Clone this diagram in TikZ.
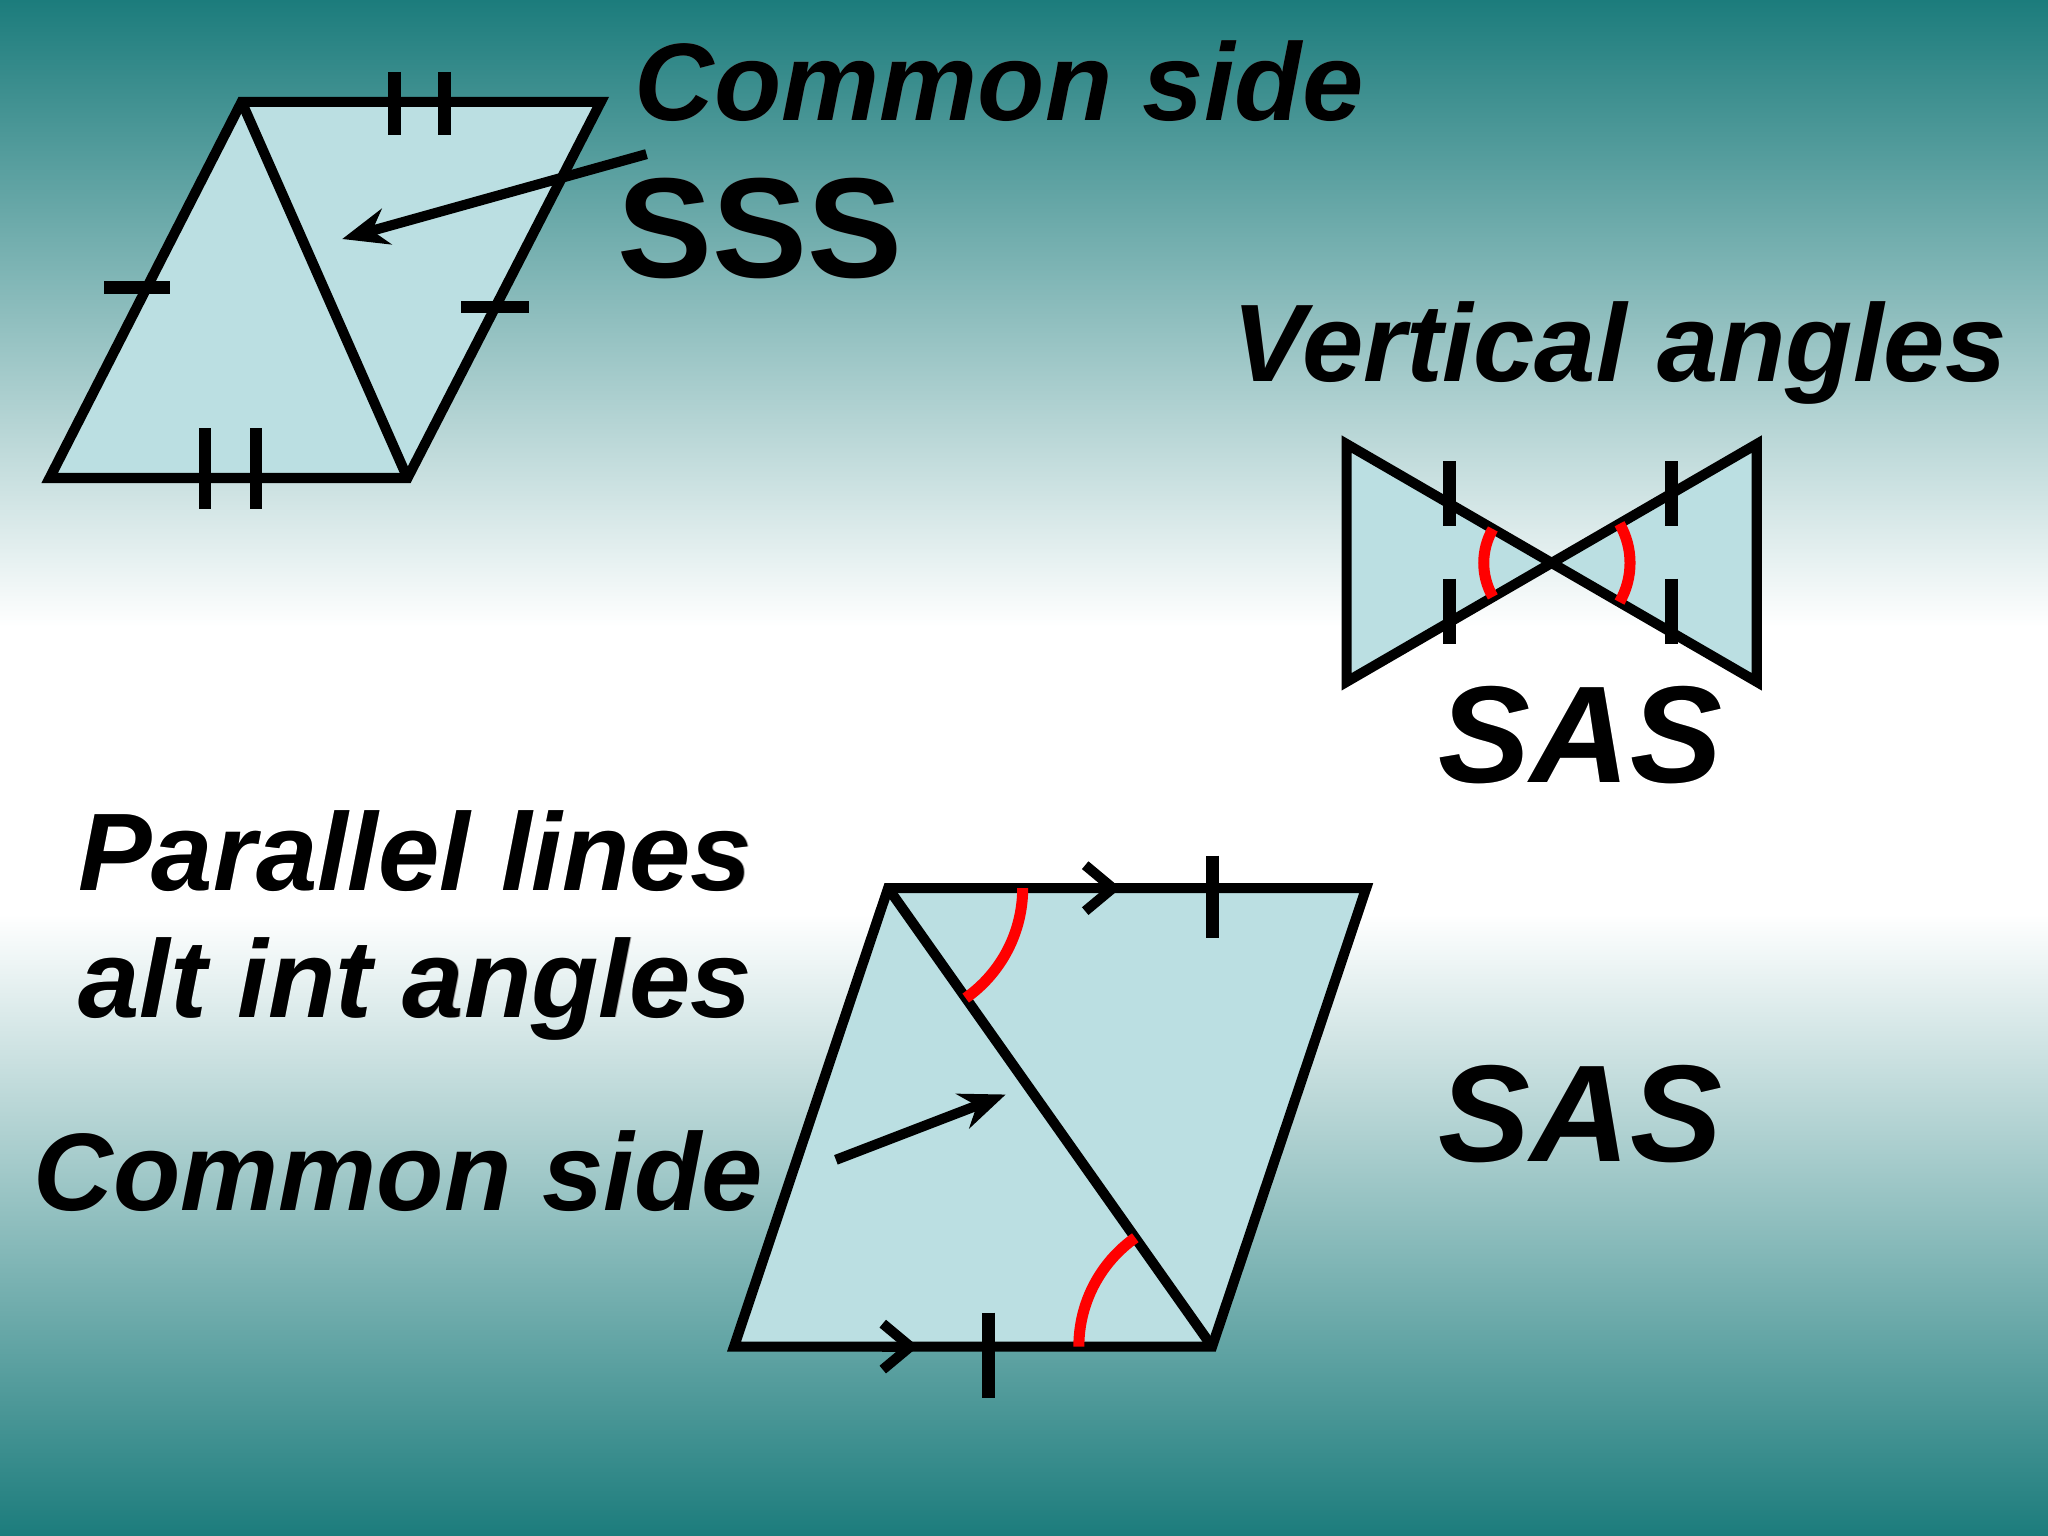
\documentclass[tikz,border=0pt]{standalone}
\usepackage{fontspec}
\setmainfont{Liberation Sans}
\usetikzlibrary{arrows.meta,calc}
\definecolor{teal1}{RGB}{28,124,124}
\definecolor{fillb}{RGB}{187,223,226}
\tikzset{
 shp/.style={draw=black,line width=2.2pt,fill=fillb,line join=miter},
 ln/.style={draw=black,line width=2.2pt},
 tk/.style={draw=black,line width=2.8pt},
 ang/.style={draw=red,line width=2.4pt},
 arr/.style={draw=black,line width=2.2pt,-{Stealth[length=10pt,width=8pt]}},
 chev/.style={draw=black,line width=2.2pt,-{Straight Barb[length=6pt,width=10pt]}},
 lbl/.style={font=\bfseries\itshape\fontsize{24}{28}\selectfont,inner sep=0pt},
 big/.style={font=\bfseries\itshape\fontsize{30}{34}\selectfont,inner sep=0pt},
}
\newcommand{\shtext}[4]{%
 \node[#1,text=gray!70] at ($(#3)+(0.04,-0.04)$) {#4};
 \node[#1,text=black] (#2) at (#3) {#4};}
\begin{document}
\begin{tikzpicture}[x=0.01cm,y=-0.01cm]
\useasboundingbox (0,0) rectangle (1568,1176);
\shade[top color=teal1,bottom color=white] (0,0) rectangle (1568,480);
\fill[white] (0,479) rectangle (1568,701);
\shade[top color=white,bottom color=teal1] (0,700) rectangle (1568,1176);
% SSS figure
\coordinate (a1) at (185,78); \coordinate (a2) at (460,78);
\coordinate (a3) at (312,366); \coordinate (a4) at (38,366);
\path[shp] (a1)--(a2)--(a3)--(a4)--cycle;
\draw[ln] (a1)--(a3);
\draw[tk] (302,55)--(302,103) (340,55)--(340,103);
\draw[tk] (157,328)--(157,390) (196,328)--(196,390);
\draw[tk] (80,220)--(130,220) (353,235)--(405,235);
\coordinate (s1) at (495,118); \coordinate (s2) at (262,183);
\draw[arr] (s1)--(s2);
\shtext{lbl}{t1}{765,62}{Common side}
\shtext{font=\bfseries\fontsize{31}{34}\selectfont,inner sep=0pt}{t2}{582,175}{SSS}
% bowtie
\shtext{lbl}{t3}{1240,270}{Vertical angles}
\coordinate (b0) at (1188,431);
\path[shp] (1031,340)--(b0)--(1031,522)--cycle;
\path[shp] (1345,340)--(b0)--(1345,522)--cycle;
\draw[tk] (1110,353)--(1110,403) (1110,443)--(1110,493) (1280,353)--(1280,403) (1280,443)--(1280,493);
\draw[ang] ($(b0)+(150:52)$) arc (150:210:52);
\draw[ang] ($(b0)+(30:60)$) arc (30:-30:60);
\shtext{big}{t4}{1210,563}{SAS}
% bottom figure
\shtext{lbl}{t5}{318,652}{Parallel lines}
\shtext{lbl}{t6}{318,757}{alt int angles}
\shtext{lbl}{t7}{305,897}{Common side}
\shtext{big}{t8}{1210,853}{SAS}
\coordinate (c1) at (680,680); \coordinate (c2) at (1046,680);
\coordinate (c3) at (928,1031); \coordinate (c4) at (562,1031);
\path[shp] (c1)--(c2)--(c3)--(c4)--cycle;
\draw[ln] (c1)--(c3);
\draw[chev] (830,680)--(858,680);
\draw[chev] (675,1031)--(703,1031);
\draw[tk] (928,655)--(928,718) (757,1005)--(757,1070);
\draw[ang] ($(c1)+(0:103)$) arc (0:54.8:103);
\draw[ang] ($(c3)+(180:102)$) arc (180:234.8:102);
\coordinate (d1) at (640,888); \coordinate (d2) at (770,838);
\draw[arr] (d1)--(d2);
\end{tikzpicture}
\end{document}
